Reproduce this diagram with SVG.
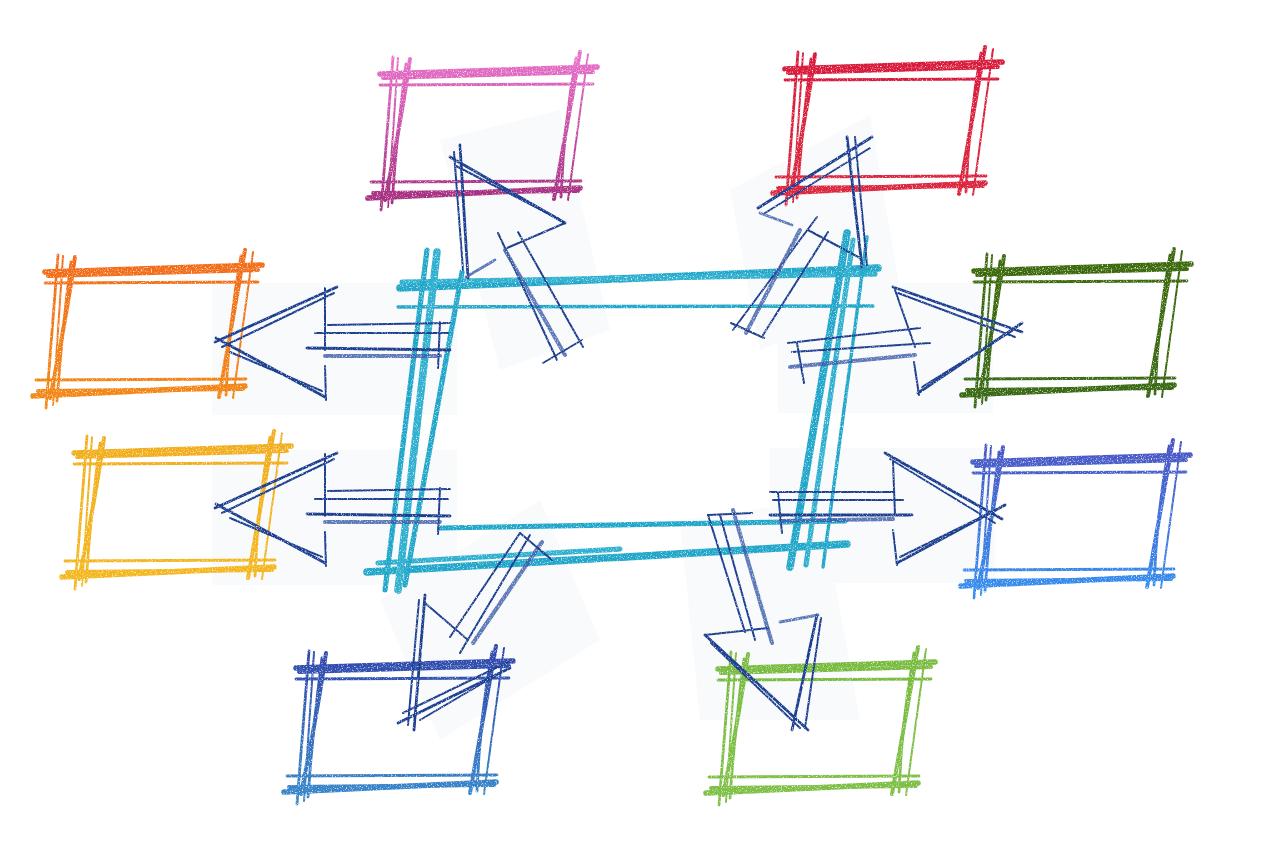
<svg xmlns="http://www.w3.org/2000/svg" xmlns:xlink="http://www.w3.org/1999/xlink" width="1280" height="853" viewBox="0 0 1280 853">
<style>
  line, path { fill: none; stroke-linecap: round; }
  .w1 { stroke-width: 2; }
  .w2 { stroke-width: 2.8; }
  .w3 { stroke-width: 4; }
  .w4 { stroke-width: 5.6; }
  .c1 { stroke-width: 3.4; }
  .c2 { stroke-width: 5.2; }
  .c3 { stroke-width: 7.5; }
  .cy { stroke: #22a7ca; }
  .cy2 { stroke: #30b0d0; }
  .nv { stroke: #1e3f8f; }
  .nv2 { stroke: #3a5aa8; opacity: 0.8; }
  .patch { fill: #f9fafc; }
</style>
<defs>
  <filter id="crayon" filterUnits="userSpaceOnUse" x="0" y="0" width="1280" height="853">
    <feTurbulence type="fractalNoise" baseFrequency="0.8" numOctaves="2" seed="3" result="n"/>
    <feColorMatrix in="n" type="matrix" values="0 0 0 0 0  0 0 0 0 0  0 0 0 0 0  3.2 0 0 0 -0.45" result="m"/>
    <feComposite in="SourceGraphic" in2="m" operator="in"/>
  </filter>
  <linearGradient id="gOrange" gradientUnits="userSpaceOnUse" x1="0" y1="250" x2="0" y2="410"><stop offset="0" stop-color="#f26a1a"/><stop offset="1" stop-color="#f28a18"/></linearGradient>
  <linearGradient id="gGreenD" gradientUnits="userSpaceOnUse" x1="0" y1="250" x2="0" y2="410"><stop offset="0" stop-color="#3e6a10"/><stop offset="1" stop-color="#3a6a14"/></linearGradient>
  <linearGradient id="gYellow" gradientUnits="userSpaceOnUse" x1="0" y1="250" x2="0" y2="410"><stop offset="0" stop-color="#f2ac1c"/><stop offset="1" stop-color="#f4b820"/></linearGradient>
  <linearGradient id="gIndigo" gradientUnits="userSpaceOnUse" x1="0" y1="250" x2="0" y2="410"><stop offset="0" stop-color="#4b54c2"/><stop offset="1" stop-color="#3592f2"/></linearGradient>
  <linearGradient id="gBlue" gradientUnits="userSpaceOnUse" x1="0" y1="250" x2="0" y2="410"><stop offset="0" stop-color="#2f45aa"/><stop offset="1" stop-color="#3a8ccc"/></linearGradient>
  <linearGradient id="gGreenL" gradientUnits="userSpaceOnUse" x1="0" y1="250" x2="0" y2="410"><stop offset="0" stop-color="#78bb40"/><stop offset="1" stop-color="#80c048"/></linearGradient>
  <linearGradient id="gPink" gradientUnits="userSpaceOnUse" x1="0" y1="250" x2="0" y2="410"><stop offset="0" stop-color="#ea74cc"/><stop offset="1" stop-color="#a02a7c"/></linearGradient>
  <linearGradient id="gRed" gradientUnits="userSpaceOnUse" x1="0" y1="250" x2="0" y2="410"><stop offset="0" stop-color="#d81c3c"/><stop offset="1" stop-color="#dc2a40"/></linearGradient>
  <g id="box">
    <line class="w4" x1="45" y1="272" x2="262" y2="265"/>
    <line class="w3" x1="48" y1="276" x2="258" y2="270"/>
    <line class="w2" x1="45" y1="283" x2="258" y2="282"/>
    <line class="w2" x1="58" y1="255" x2="46" y2="408"/>
    <line class="w1" x1="63" y1="256" x2="53" y2="405"/>
    <path class="w3" d="M75,257 Q66,320 50,398"/>
    <path class="w2" d="M71,262 Q62,330 57,401"/>
    <line class="w2" x1="36" y1="380" x2="246" y2="379"/>
    <line class="w4" x1="33" y1="396" x2="245" y2="386"/>
    <line class="w3" x1="38" y1="391" x2="243" y2="389"/>
    <line class="w3" x1="245" y1="250" x2="219" y2="397"/>
    <line class="w1" x1="253" y1="252" x2="233" y2="398"/>
    <path class="w2" d="M241,256 Q229,320 226,395"/>
  </g>
</defs>

<rect width="1280" height="853" fill="#ffffff"/>

<g id="paper-patches">
  <rect class="patch" x="212" y="283" width="245" height="132"/>
  <rect class="patch" x="212" y="450" width="245" height="135"/>
  <rect class="patch" x="778" y="283" width="215" height="130"/>
  <rect class="patch" x="770" y="448" width="225" height="135"/>
  <polygon class="patch" points="440,140 560,110 610,330 500,370"/>
  <polygon class="patch" points="730,190 870,115 900,290 760,350"/>
  <polygon class="patch" points="380,600 540,500 600,640 440,740"/>
  <polygon class="patch" points="680,520 820,500 860,720 700,720"/>
</g>

<g filter="url(#crayon)">
<g id="center-box">
  <line class="c3 cy" x1="400" y1="288" x2="878" y2="268"/>
  <line class="c2 cy2" x1="402" y1="282" x2="875" y2="274"/>
  <line class="c1 cy" x1="398" y1="307" x2="873" y2="306"/>
  <line class="c2 cy" x1="440" y1="528" x2="845" y2="521"/>
  <line class="c3 cy" x1="367" y1="572" x2="847" y2="544"/>
  <line class="c2 cy2" x1="378" y1="563" x2="620" y2="549"/>
  <line class="c2 cy" x1="427" y1="250" x2="385" y2="590"/>
  <line class="c3 cy2" x1="437" y1="252" x2="398" y2="590"/>
  <line class="c2 cy" x1="462" y1="272" x2="405" y2="585"/>
  <line class="c3 cy" x1="847" y1="233" x2="790" y2="567"/>
  <line class="c2 cy2" x1="853" y1="240" x2="806" y2="565"/>
  <line class="c1 cy" x1="867" y1="237" x2="823" y2="567"/>
</g>

<g id="node-pink"><use xlink:href="#box" transform="translate(335,-198)" stroke="url(#gPink)"/></g>
<g id="node-red"><use xlink:href="#box" transform="translate(740,-203)" stroke="url(#gRed)"/></g>
<g id="node-orange"><use xlink:href="#box" stroke="url(#gOrange)"/></g>
<g id="node-darkgreen"><use xlink:href="#box" transform="translate(929,-1)" stroke="url(#gGreenD)"/></g>
<g id="node-yellow"><use xlink:href="#box" transform="translate(29,181)" stroke="url(#gYellow)"/></g>
<g id="node-indigo"><use xlink:href="#box" transform="translate(928,190)" stroke="url(#gIndigo)"/></g>
<g id="node-blue"><use xlink:href="#box" transform="translate(251,396)" stroke="url(#gBlue)"/></g>
<g id="node-green"><use xlink:href="#box" transform="translate(673,397)" stroke="url(#gGreenL)"/></g>

<g id="connectors">
  <g id="arrow-left-upper">
    <line class="w2 nv" x1="215" y1="342" x2="337" y2="287"/>
    <line class="w1 nv" x1="222" y1="347" x2="334" y2="293"/>
    <line class="w2 nv" x1="216" y1="338" x2="325" y2="397"/>
    <line class="w1 nv" x1="230" y1="352" x2="322" y2="391"/>
    <line class="w1 nv" x1="325" y1="288" x2="325" y2="350"/>
    <line class="w1 nv" x1="325" y1="366" x2="326" y2="400"/>
    <line class="w1 nv" x1="328" y1="325" x2="450" y2="323"/>
    <line class="w1 nv" x1="315" y1="333" x2="448" y2="333"/>
    <line class="w2 nv" x1="307" y1="348" x2="450" y2="350"/>
    <line class="w3 nv2" x1="325" y1="356" x2="440" y2="356"/>
    <line class="w1 nv" x1="440" y1="322" x2="438" y2="368"/>
  </g>
  <g id="arrow-left-lower" transform="translate(0,166)">
    <line class="w2 nv" x1="215" y1="342" x2="337" y2="287"/>
    <line class="w1 nv" x1="222" y1="347" x2="334" y2="293"/>
    <line class="w2 nv" x1="216" y1="338" x2="325" y2="397"/>
    <line class="w1 nv" x1="230" y1="352" x2="322" y2="391"/>
    <line class="w1 nv" x1="325" y1="288" x2="325" y2="350"/>
    <line class="w1 nv" x1="325" y1="366" x2="326" y2="400"/>
    <line class="w1 nv" x1="328" y1="325" x2="450" y2="323"/>
    <line class="w1 nv" x1="315" y1="333" x2="448" y2="333"/>
    <line class="w2 nv" x1="307" y1="348" x2="450" y2="350"/>
    <line class="w3 nv2" x1="325" y1="356" x2="440" y2="356"/>
    <line class="w1 nv" x1="440" y1="322" x2="438" y2="368"/>
  </g>
  <g id="arrow-right-upper">
    <line class="w2 nv" x1="893" y1="287" x2="1022" y2="332"/>
    <line class="w1 nv" x1="898" y1="293" x2="1015" y2="337"/>
    <line class="w2 nv" x1="918" y1="393" x2="1022" y2="323"/>
    <line class="w1 nv" x1="922" y1="387" x2="1012" y2="331"/>
    <line class="w1 nv" x1="895" y1="290" x2="915" y2="347"/>
    <line class="w1 nv" x1="914" y1="362" x2="919" y2="395"/>
    <line class="w1 nv" x1="788" y1="343" x2="920" y2="328"/>
    <line class="w1 nv" x1="792" y1="352" x2="930" y2="343"/>
    <line class="w3 nv2" x1="790" y1="367" x2="915" y2="355"/>
    <line class="w1 nv" x1="797" y1="343" x2="804" y2="383"/>
  </g>
  <g id="arrow-right-lower">
    <line class="w2 nv" x1="885" y1="453" x2="1002" y2="519"/>
    <line class="w1 nv" x1="890" y1="459" x2="995" y2="523"/>
    <line class="w2 nv" x1="897" y1="563" x2="1005" y2="505"/>
    <line class="w1 nv" x1="900" y1="557" x2="996" y2="510"/>
    <line class="w1 nv" x1="893" y1="462" x2="895" y2="515"/>
    <line class="w1 nv" x1="893" y1="530" x2="897" y2="565"/>
    <line class="w1 nv" x1="770" y1="492" x2="893" y2="492"/>
    <line class="w1 nv" x1="773" y1="500" x2="903" y2="500"/>
    <line class="w2 nv" x1="770" y1="515" x2="912" y2="515"/>
    <line class="w3 nv2" x1="780" y1="521" x2="893" y2="519"/>
    <line class="w1 nv" x1="778" y1="493" x2="782" y2="533"/>
  </g>
  <g id="arrow-top-left">
    <line class="w2 nv" x1="460" y1="145" x2="468" y2="278"/>
    <line class="w1 nv" x1="454" y1="152" x2="463" y2="270"/>
    <line class="w2 nv" x1="450" y1="157" x2="565" y2="223"/>
    <line class="w1 nv" x1="456" y1="166" x2="559" y2="219"/>
    <line class="w1 nv" x1="565" y1="223" x2="507" y2="248"/>
    <line class="w2 nv2" x1="466" y1="277" x2="495" y2="260"/>
    <line class="w1 nv" x1="498" y1="233" x2="557" y2="360"/>
    <line class="w3 nv2" x1="505" y1="250" x2="565" y2="355"/>
    <line class="w1 nv" x1="518" y1="232" x2="583" y2="347"/>
    <line class="w1 nv" x1="543" y1="363" x2="582" y2="340"/>
  </g>
  <g id="arrow-top-right">
    <line class="w2 nv" x1="758" y1="208" x2="872" y2="137"/>
    <line class="w1 nv" x1="765" y1="213" x2="870" y2="148"/>
    <line class="w2 nv" x1="847" y1="137" x2="862" y2="267"/>
    <line class="w1 nv" x1="855" y1="137" x2="867" y2="265"/>
    <line class="w2 nv2" x1="760" y1="213" x2="792" y2="225"/>
    <line class="w1 nv" x1="808" y1="230" x2="860" y2="258"/>
    <line class="w1 nv" x1="817" y1="217" x2="733" y2="330"/>
    <line class="w3 nv2" x1="800" y1="230" x2="746" y2="333"/>
    <line class="w1 nv" x1="828" y1="232" x2="763" y2="335"/>
    <line class="w1 nv" x1="731" y1="323" x2="764" y2="338"/>
  </g>
  <g id="arrow-bottom-left">
    <line class="w2 nv" x1="425" y1="595" x2="414" y2="730"/>
    <line class="w1 nv" x1="419" y1="600" x2="408" y2="725"/>
    <line class="w1 nv" x1="425" y1="603" x2="468" y2="640"/>
    <line class="w2 nv" x1="398" y1="723" x2="510" y2="668"/>
    <line class="w1 nv" x1="403" y1="713" x2="508" y2="662"/>
    <line class="w1 nv" x1="420" y1="720" x2="500" y2="673"/>
    <line class="w1 nv" x1="450" y1="637" x2="520" y2="533"/>
    <line class="w1 nv" x1="460" y1="653" x2="530" y2="535"/>
    <line class="w3 nv2" x1="473" y1="643" x2="542" y2="542"/>
    <line class="w1 nv" x1="520" y1="533" x2="552" y2="560"/>
  </g>
  <g id="arrow-bottom-right">
    <line class="w1 nv" x1="708" y1="515" x2="745" y2="632"/>
    <line class="w1 nv" x1="720" y1="515" x2="755" y2="640"/>
    <line class="w3 nv2" x1="733" y1="510" x2="772" y2="643"/>
    <line class="w1 nv" x1="708" y1="515" x2="752" y2="513"/>
    <line class="w1 nv" x1="705" y1="635" x2="768" y2="628"/>
    <line class="w2 nv" x1="705" y1="635" x2="808" y2="730"/>
    <line class="w1 nv" x1="711" y1="643" x2="800" y2="728"/>
    <line class="w2 nv" x1="817" y1="615" x2="792" y2="730"/>
    <line class="w1 nv" x1="821" y1="618" x2="805" y2="728"/>
    <line class="w2 nv2" x1="780" y1="622" x2="818" y2="615"/>
  </g>
</g>
</g>
</svg>
